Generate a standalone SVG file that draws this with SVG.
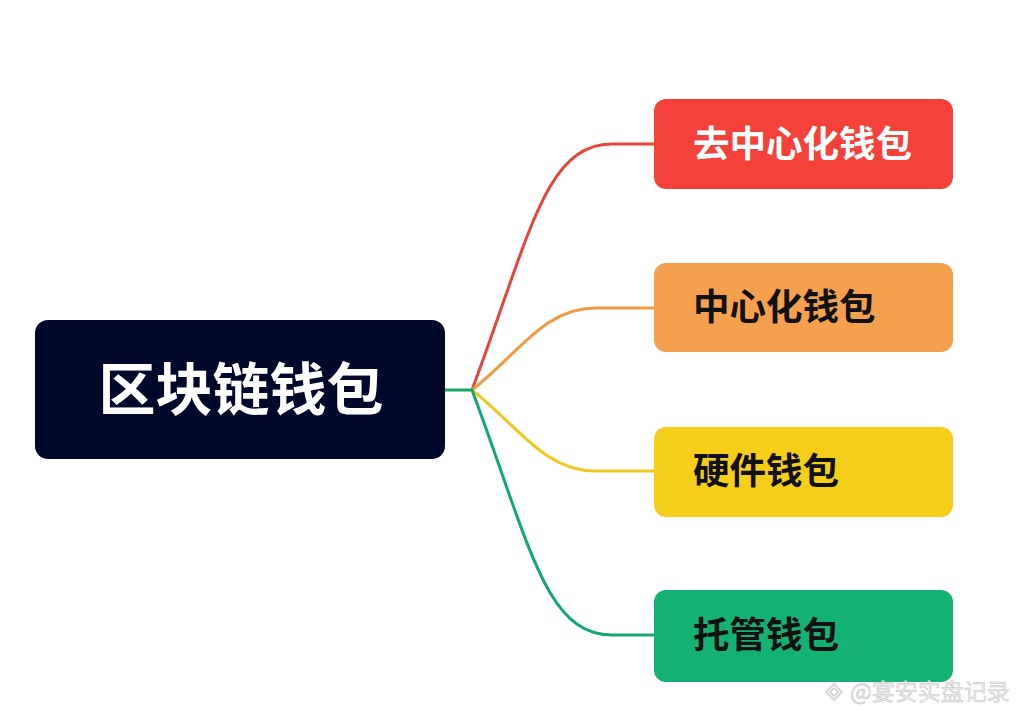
<svg xmlns="http://www.w3.org/2000/svg" width="1026" height="717" viewBox="0 0 1026 717">
<style>
.t{font-family:"Noto Sans CJK SC","Noto Sans",sans-serif;font-weight:700;}
.c{fill:none;stroke-width:3;stroke-linecap:round;stroke-linejoin:round;}
</style>
<rect width="1026" height="717" fill="#ffffff"/>
<g id="connectors">
<path class="c" stroke="#E8453A" d="M472,390 C530,235 545,144 612,144 L655,144"/>
<path class="c" stroke="#F29A40" d="M472,390 C520,352 545,308 595,308 L655,308"/>
<path class="c" stroke="#F2C81E" d="M472,390 C520,428 545,471 595,471 L655,471"/>
<path class="c" stroke="#12A86E" d="M472,390 C530,545 545,635 612,635 L655,635"/>
<path class="c" stroke="#12A86E" d="M445,390 L472,390"/>
</g>
<g id="root">
<rect x="35" y="320" width="410" height="139" rx="13" fill="#020829"/>
<text class="t" x="241" y="410" font-size="57" fill="#ffffff" text-anchor="middle">区块链钱包</text>
</g>
<g id="n1">
<rect x="654" y="99" width="299" height="90" rx="12" fill="#F4413A"/>
<text class="t" x="693" y="157" font-size="36.5" fill="#ffffff">去中心化钱包</text>
</g>
<g id="n2">
<rect x="654" y="263" width="299" height="89" rx="12" fill="#F5A04E"/>
<text class="t" x="693" y="320" font-size="36.5" fill="#111111">中心化钱包</text>
</g>
<g id="n3">
<rect x="654" y="427" width="299" height="90" rx="12" fill="#F5CE1A"/>
<text class="t" x="693" y="484" font-size="36.5" fill="#111111">硬件钱包</text>
</g>
<g id="n4">
<rect x="654" y="590" width="299" height="92" rx="12" fill="#13B272"/>
<text class="t" x="693" y="648" font-size="36.5" fill="#111111">托管钱包</text>
</g>
<g id="watermark">
<path d="M826,692 l8,-8 l8,8 l-8,8 z M834,688 l4,4 l-4,4 l-4,-4 z" fill="none" stroke="#d8d8d8" stroke-width="2"/>
<text x="850" y="700" font-family="Noto Sans CJK SC,sans-serif" font-size="23" fill="#ececec" stroke="#c4c4c4" stroke-width="0.5">@宴安实盘记录</text>
</g>
</svg>
